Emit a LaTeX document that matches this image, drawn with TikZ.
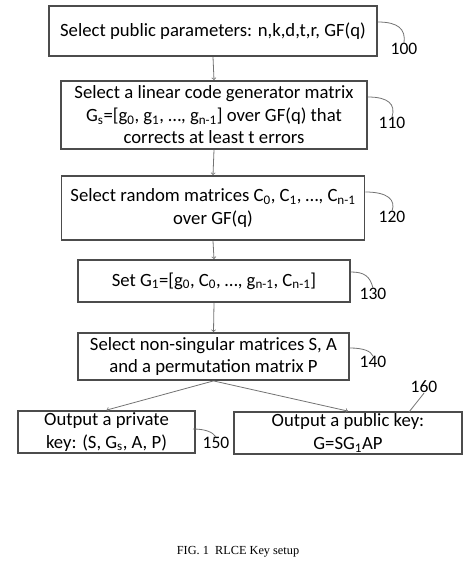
\documentclass[tikz,border=0pt]{standalone}
\usepackage{fontspec}
\setmainfont{Carlito}
\newfontfamily\capfont{Liberation Serif}

\begin{document}
\begin{tikzpicture}[x=1pt,y=-1pt,
  stepbox/.style={draw=black!70, line width=1.8pt, inner sep=0pt, align=center,
    font=\fontsize{18.7}{22.5}\selectfont},
  reflabel/.style={inner sep=0pt, font=\fontsize{17.5}{20}\selectfont},
  flow/.style={->, draw=black!55, line width=0.8pt},
  leader/.style={draw=black!55, line width=0.8pt}]
\useasboundingbox (0,0) rectangle (474,576);

% the boxes
\node[stepbox, minimum width=328pt, minimum height=50pt] (Box100) at (213,31) {Select public parameters: n,k,d,t,r, GF(q)};
\node[stepbox, minimum width=306pt, minimum height=68pt] (Box110) at (214,115) {Select a linear code generator matrix\\G\textsubscript{s}=[g\textsubscript{0}, g\textsubscript{1}, …, g\textsubscript{n-1}] over GF(q) that\\corrects at least t errors};
\node[stepbox, minimum width=303pt, minimum height=64pt] (Box120) at (213,208) {Select random matrices C\textsubscript{0}, C\textsubscript{1}, …, C\textsubscript{n-1}\\over GF(q)};
\node[stepbox, minimum width=272pt, minimum height=42pt] (Box130) at (214,281) {Set G\textsubscript{1}=[g\textsubscript{0}, C\textsubscript{0}, …, g\textsubscript{n-1}, C\textsubscript{n-1}]};
\node[stepbox, minimum width=271pt, minimum height=47pt] (Box140) at (213.5,356.5) {Select non-singular matrices S, A\\and a permutation matrix P};
\node[stepbox, minimum width=177pt, minimum height=42pt] (Box150) at (106.5,432) {Output a private\\key: (S, G\textsubscript{s}, A, P)};
\node[stepbox, minimum width=228pt, minimum height=42pt] (Box160) at (348,433) {Output a public key:\\G=SG\textsubscript{1}AP};

\foreach \a/\b in {Box100/Box110,Box110/Box120,Box120/Box130,Box130/Box140,Box140/Box150,Box140/Box160}
  \draw[flow] (\a.south) -- (\b.north);

% the reference numbers
\node[reflabel] (Label100) at (404,49) {100};
\node[reflabel] (Label110) at (392,123) {110};
\node[reflabel] (Label120) at (392,217) {120};
\node[reflabel] (Label130) at (373,294) {130};
\node[reflabel] (Label140) at (373,362) {140};
\node[reflabel] (Label150) at (216,443) {150};
\node[reflabel] (Label160) at (424,387) {160};

\draw[leader] ([yshift=9pt]Box100.east) .. controls (398,22) and (406,29) .. (Label100.north);
\draw[leader] ([yshift=18pt]Box110.east) .. controls (388,97) and (396,104) .. (Label110.north);
\draw[leader] ([yshift=16pt]Box120.east) .. controls (388,192) and (396,200) .. (Label120.north);
\draw[leader] ([yshift=9pt]Box130.east) .. controls (364,272) and (370,276) .. (Label130.north);
\draw[leader] ([yshift=8.5pt]Box140.east) .. controls (363,348) and (371,351) .. (Label140.north);
\coordinate (Lead150) at (193,429);
\draw[leader] (Lead150) .. controls (205,429) and (213,432) .. (Label150.north);
\coordinate (Lead160) at (409,412);
\draw[leader] (Lead160) -- (Label160.south);

% the caption
\node[inner sep=0pt, font=\capfont\fontsize{12.3}{14}\selectfont] (Caption) at (238,552) {FIG. 1\ \ RLCE Key setup};
\end{tikzpicture}
\end{document}
